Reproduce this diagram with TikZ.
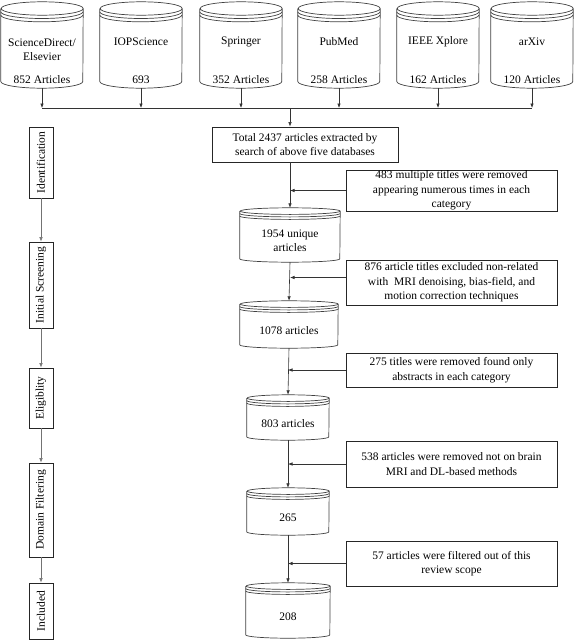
\documentclass[tikz,border=0pt]{standalone}
\usepackage{fontspec}
\setmainfont{Liberation Serif}
\usetikzlibrary{arrows.meta,positioning}

% cylinder outline drawn around the body node #1
% #2 half width, #3 ellipse y radius, #4 gap between rings
\newcommand{\dbtop}[4]{%
  \draw[dbline] ([yshift=#3pt+2*#4pt]#1.north west) -- ([yshift=#3pt]#1.south west)
    arc[start angle=180, end angle=360, x radius=#2pt, y radius=#3pt]
    -- ([yshift=#3pt+2*#4pt]#1.north east)
    arc[start angle=0, end angle=360, x radius=#2pt, y radius=#3pt];
  \draw[dbline] ([yshift=#3pt+#4pt]#1.north west) arc[start angle=180, end angle=360, x radius=#2pt, y radius=#3pt];
  \draw[dbline] ([yshift=#3pt]#1.north west) arc[start angle=180, end angle=360, x radius=#2pt, y radius=#3pt];
  \coordinate (#1top) at ([yshift=2*#3pt+2*#4pt]#1.north);
}

\begin{document}
\begin{tikzpicture}[x=1pt, y=-1pt, font=\fontsize{11.5}{14.5}\selectfont]
  \tikzstyle{db} = [draw=none, inner sep=0pt, align=center]
  \tikzstyle{srcdb} = [db, minimum width=82pt, minimum height=66pt]
  \tikzstyle{dbline} = [draw=black!75, line width=0.7pt]
  \tikzstyle{note} = [draw=black!85, line width=0.8pt, inner sep=0pt, minimum width=211pt, align=center]
  \tikzstyle{stage} = [draw=black!85, line width=0.8pt, rotate=90, minimum height=24pt, inner sep=1pt]
  \tikzstyle{flow} = [-{Latex[length=4.5pt,width=3.5pt]}, draw=black!80, line width=0.6pt]
  \tikzstyle{stageflow} = [flow, draw=black!55]
  \useasboundingbox (0,0) rectangle (575,640);

  % databases
  \node[srcdb] (sd) at (42,55) {};
  \node[srcdb] (iop) at (141,55) {};
  \node[srcdb] (spr) at (241,55) {};
  \node[srcdb] (pm) at (339,55) {};
  \node[srcdb] (ieee) at (438,55) {};
  \node[srcdb] (arx) at (532,55) {};
  \foreach \s in {sd,iop,spr,pm,ieee,arx} {\dbtop{\s}{41}{6.7}{3.3}}
  \node[align=center] (sdname) at (42,49.5) {ScienceDirect/\\Elsevier};
  \node (iopname) at (141,42) {IOPScience};
  \node (sprname) at (241,42) {Springer};
  \node (pmname) at (339,42) {PubMed};
  \node (ieeename) at (438,42) {IEEE Xplore};
  \node (arxname) at (532,42) {arXiv};
  \node (sdcnt) at (42,80) {852 Articles};
  \node (iopcnt) at (141,80) {693};
  \node (sprcnt) at (241,80) {352 Articles};
  \node (pmcnt) at (339,80) {258 Articles};
  \node (ieeecnt) at (438,80) {162 Articles};
  \node (arxcnt) at (532,80) {120 Articles};

  \coordinate (jn) at (290,108);
  \node[note, minimum width=186pt, minimum height=35pt] (total) at (305,144.5) {Total 2437 articles extracted by\\search of above five databases};

  % screening chain
  \node[db, minimum width=100pt, minimum height=42.4pt] (c1954) at (290,240.8) {1954 unique\\articles};
  \node[db, minimum width=98pt, minimum height=35.4pt] (c1078) at (289,330.3) {1078 articles};
  \node[db, minimum width=82pt, minimum height=33.4pt] (c803) at (288,423.3) {803 articles};
  \node[db, minimum width=82pt, minimum height=35.4pt] (c265) at (288,517.3) {265};
  \node[db, minimum width=84pt, minimum height=43.4pt] (c208) at (288,616.3) {208};
  \dbtop{c1954}{50}{3.3}{2.5}
  \dbtop{c1078}{49}{3.3}{2.5}
  \dbtop{c803}{41}{3.3}{2.5}
  \dbtop{c265}{41}{3.3}{2.5}
  \dbtop{c208}{42}{3.3}{2.5}

  % removed records
  \node[note, minimum height=41pt] (b483) at (451.5,190.5) {483 multiple titles were removed\\appearing numerous times in each\\category};
  \node[note, minimum height=45pt] (b876) at (451.5,282.5) {876 article titles excluded non-related\\with~ MRI denoising, bias-field, and\\motion correction techniques};
  \node[note, minimum height=34pt] (b275) at (451.5,370) {275 titles were removed found only\\abstracts in each category};
  \node[note, minimum height=46pt] (b538) at (451.5,464) {538 articles were removed not on brain\\MRI and DL-based methods};
  \node[note, minimum height=45pt] (b57) at (451.5,563.5) {57 articles were filtered out of this\\review scope};

  % stages
  \node[stage, minimum width=71pt] (ident) at (41,162.5) {Identification};
  \node[stage, minimum width=86pt] (screen) at (41,285) {Initial Screening};
  \node[stage, minimum width=60pt] (elig) at (41,398) {Eligiblity};
  \node[stage, minimum width=94pt] (domain) at (41,510) {Domain Filtering};
  \node[stage, minimum width=56pt] (incl) at (41,611) {Included};

  \foreach \s in {sd,iop,spr,pm,ieee,arx} \draw[flow] (\s.south) -- (\s.south |- jn);
  \draw[draw=black!80, line width=0.6pt] (sd.south |- jn) -- (arx.south |- jn);
  \draw[flow] (jn) -- (jn |- total.north);
  \draw[flow] (c1954top |- total.south) -- (c1954top);
  \draw[flow] (c1954.south) -- (c1078top);
  \draw[flow] (c1078.south) -- (c803top);
  \draw[flow] (c803.south) -- (c265top);
  \draw[flow] (c265.south) -- (c208top);
  \draw[flow] (b483.west) -- (b483.west -| c1954);
  \draw[flow] ([yshift=5pt]b876.west) -- ([yshift=5pt]b876.west -| c1954);
  \draw[flow] (b275.west) -- (b275.west -| c803);
  \draw[flow] (b538.west) -- (b538.west -| c265);
  \draw[flow] (b57.west) -- (b57.west -| c208);
  \draw[stageflow] (ident.west) -- (screen.east);
  \draw[stageflow] (screen.west) -- (elig.east);
  \draw[stageflow] (elig.west) -- (domain.east);
  \draw[stageflow] (domain.west) -- (incl.east);
\end{tikzpicture}
\end{document}
